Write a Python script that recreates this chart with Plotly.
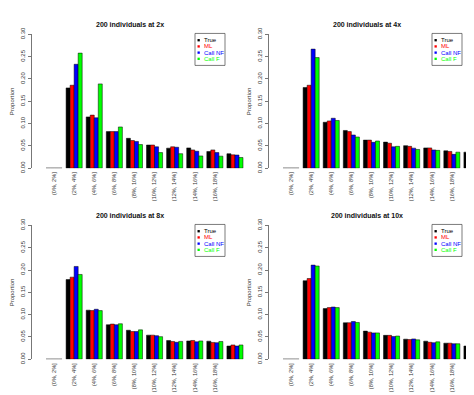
import plotly.graph_objects as go

bins = ["(0%, 2%]", "(2%, 4%]", "(4%, 6%]", "(6%, 8%]", "(8%, 10%]",
        "(10%, 12%]", "(12%, 14%]", "(14%, 16%]", "(16%, 18%]", "(18%, 20%]"]
series_names = ["True", "ML", "Call NF", "Call F"]
series_colors = ["#000000", "#FF0000", "#0000FF", "#00FF00"]
titles = ["200 individuals at 2x", "200 individuals at 4x",
          "200 individuals at 8x", "200 individuals at 10x"]
y_ticks = [0.00, 0.05, 0.10, 0.15, 0.20, 0.25, 0.30]

# panel 1: 2x
p2x_true = [0, 0.180, 0.115, 0.082, 0.067, 0.052, 0.045, 0.0455, 0.0375, 0.0325]
p2x_ml = [0, 0.186, 0.119, 0.082, 0.062, 0.052, 0.048, 0.041, 0.041, 0.030]
p2x_nf = [0, 0.233, 0.113, 0.082, 0.060, 0.048, 0.047, 0.038, 0.035, 0.0296]
p2x_f = [0, 0.258, 0.189, 0.0925, 0.053, 0.035, 0.0325, 0.0275, 0.027, 0.024]
# panel 2: 4x
p4x_true = [0, 0.181, 0.103, 0.0846, 0.063, 0.0585, 0.0506, 0.0455, 0.039, 0.036]
p4x_ml = [0, 0.186, 0.106, 0.082, 0.063, 0.056, 0.049, 0.0455, 0.0376, 0.0354]
p4x_nf = [0, 0.267, 0.112, 0.0745, 0.058, 0.048, 0.045, 0.041, 0.031, 0.032]
p4x_f = [0, 0.248, 0.107, 0.070, 0.061, 0.049, 0.042, 0.040, 0.036, 0.0347]
# panel 3: 8x
p8x_true = [0, 0.1786, 0.110, 0.0773, 0.065, 0.054, 0.042, 0.041, 0.0405, 0.0296]
p8x_ml = [0, 0.184, 0.109, 0.0788, 0.062, 0.054, 0.0398, 0.042, 0.0376, 0.032]
p8x_nf = [0, 0.208, 0.112, 0.0773, 0.062, 0.0528, 0.038, 0.039, 0.037, 0.0296]
p8x_f = [0, 0.190, 0.109, 0.0795, 0.0658, 0.0506, 0.040, 0.041, 0.0398, 0.032]
# panel 4: 10x
p10x_true = [0, 0.176, 0.1135, 0.0817, 0.063, 0.0535, 0.045, 0.0405, 0.036, 0.0296]
p10x_ml = [0, 0.181, 0.1157, 0.0817, 0.0607, 0.0535, 0.044, 0.038, 0.036, 0.0296]
p10x_nf = [0, 0.211, 0.117, 0.0846, 0.059, 0.051, 0.0455, 0.037, 0.0347, 0.0296]
p10x_f = [0, 0.209, 0.1157, 0.0824, 0.059, 0.052, 0.0434, 0.039, 0.0347, 0.032]

panels = [
    [p2x_true, p2x_ml, p2x_nf, p2x_f],
    [p4x_true, p4x_ml, p4x_nf, p4x_f],
    [p8x_true, p8x_ml, p8x_nf, p8x_f],
    [p10x_true, p10x_ml, p10x_nf, p10x_f],
]

W, H = 474, 395
FONT = "Liberation Sans, Arial, Helvetica, sans-serif"
TXT = "#333333"

fig = go.Figure()
positions = list(range(len(bins)))
layout = dict(
    width=W, height=H, margin=dict(l=0, r=0, t=0, b=0),
    paper_bgcolor="white", plot_bgcolor="white",
    barmode="group", bargap=0.2, bargroupgap=0.0,
    showlegend=False, font=dict(family=FONT, color=TXT),
)
shapes = []
annotations = []

for i, (vals, title) in enumerate(zip(panels, titles)):
    col, row = i % 2, i // 2
    ox, oy = 237 * col, 197 * row
    sfx = "" if i == 0 else str(i + 1)
    xa, ya = "x" + sfx, "y" + sfx
    for name, color, v in zip(series_names, series_colors, vals):
        fig.add_trace(go.Bar(
            x=positions, y=v, name=name, xaxis=xa, yaxis=ya,
            marker=dict(color=color, line=dict(color="#000000", width=0.5)),
            offsetgroup=name,
        ))
    x0, x1 = (ox + 24) / W, (ox + 237) / W
    y0, y1 = 1 - (oy + 158) / H, 1 - (oy + 20) / H
    layout["xaxis" + sfx] = dict(
        domain=[x0, x1], range=[-1.0965, 9.5], anchor=ya,
        showgrid=False, zeroline=False, showline=False,
        tickmode="array", tickvals=positions[:9], ticktext=bins[:9],
        tickangle=-90, ticks="", ticklabelstandoff=2,
        tickfont=dict(size=5.6, color=TXT, family=FONT),
    )
    layout["yaxis" + sfx] = dict(
        domain=[y0, y1], range=[0, 0.30], anchor=xa,
        showgrid=False, zeroline=False, showline=True,
        linecolor="#777777", linewidth=0.5,
        ticks="outside", ticklen=3, tickwidth=0.5, tickcolor="#777777",
        tickmode="array", tickvals=y_ticks,
        ticktext=["%.2f" % t for t in y_ticks],
        tickangle=-90, ticklabelstandoff=1,
        tickfont=dict(size=6, color=TXT, family=FONT),
    )
    # title
    annotations.append(dict(
        text="<b>" + title + "</b>", x=(ox + 122) / W, y=1 - (oy + 10) / H,
        xref="paper", yref="paper", showarrow=False,
        xanchor="center", yanchor="middle",
        font=dict(size=7, color="#111111", family=FONT),
    ))
    # y label
    annotations.append(dict(
        text="Proportion", x=(ox + 4) / W, y=1 - (oy + 89) / H,
        xref="paper", yref="paper", showarrow=False, textangle=-90,
        xanchor="center", yanchor="middle",
        font=dict(size=6, color=TXT, family=FONT),
    ))
    # legend box
    shapes.append(dict(
        type="rect", xref="paper", yref="paper",
        x0=(ox + 187) / W, x1=(ox + 217) / W,
        y0=1 - (oy + 52) / H, y1=1 - (oy + 19) / H,
        line=dict(color="#444444", width=0.7), fillcolor="white",
    ))
    for k, (name, color) in enumerate(zip(series_names, series_colors)):
        cy = oy + 26 + 6.4 * k
        shapes.append(dict(
            type="rect", xref="paper", yref="paper",
            x0=(ox + 189.5) / W, x1=(ox + 191.8) / W,
            y0=1 - (cy + 1.2) / H, y1=1 - (cy - 1.2) / H,
            line=dict(width=0), fillcolor=color,
        ))
        annotations.append(dict(
            text=name, x=(ox + 194) / W, y=1 - cy / H,
            xref="paper", yref="paper", showarrow=False,
            xanchor="left", yanchor="middle",
            font=dict(size=6, color=color, family=FONT),
        ))

layout["shapes"] = shapes
layout["annotations"] = annotations
fig.update_layout(**layout)
fig.write_html("out.html")
